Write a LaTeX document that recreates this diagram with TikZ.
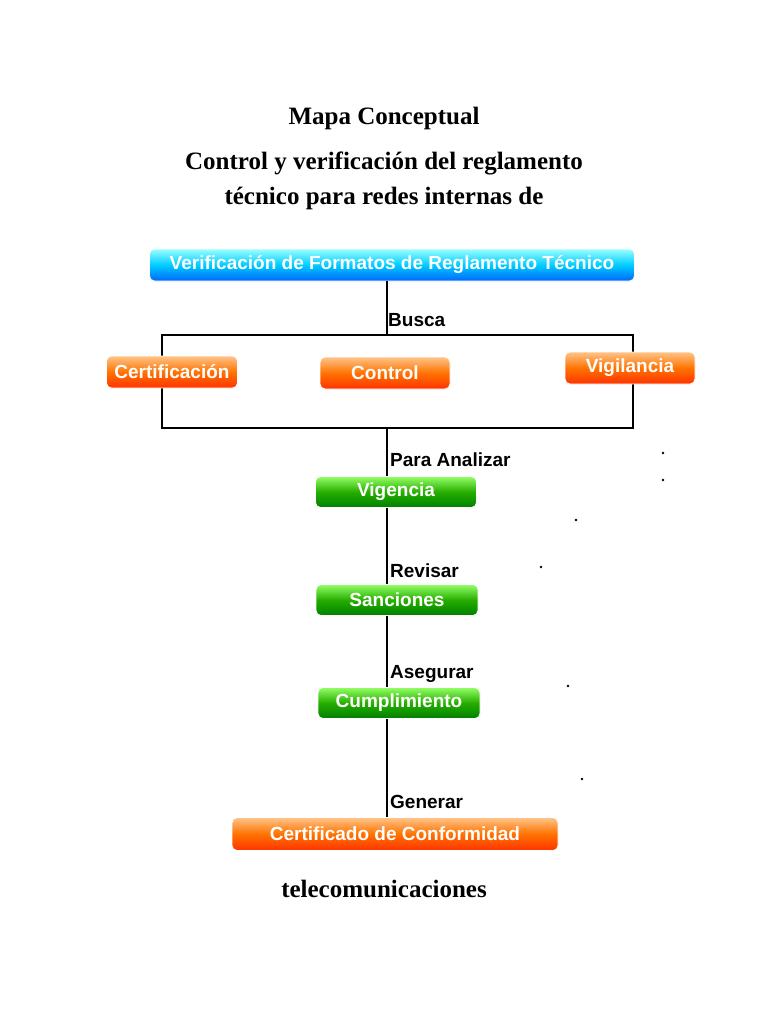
\documentclass[tikz,border=0pt]{standalone}
\usepackage{fontspec}
\setmainfont{Liberation Serif}
\newfontfamily\lblfont{Liberation Sans}
\begin{document}
\begin{tikzpicture}[x=1pt,y=-1pt,
  bx/.style={rounded corners=5pt,draw=white,line width=0.8pt,minimum height=32pt,inner sep=0pt,text=white,font=\lblfont\bfseries\fontsize{19}{20}\selectfont},
  orangebox/.style={bx,top color=orange!40!white!90!orange,bottom color=red!60!orange,middle color=orange!90!red},
  greenbox/.style={bx,top color=green!60!lime!60!white,bottom color=green!50!black,middle color=green!60!black!80!lime},
  bluebox/.style={bx,top color=cyan!40!white,bottom color=blue!60!cyan,middle color=cyan!80!blue},
  ln/.style={line width=2pt,black},
  lbl/.style={font=\lblfont\bfseries\fontsize{19}{20}\selectfont,anchor=west,inner sep=0pt},
  ttl/.style={font=\bfseries\fontsize{25}{28}\selectfont}]
\useasboundingbox (0,0) rectangle (768,1024);
\node[ttl] (t1) at (384,118) {Mapa Conceptual};
\node[ttl] (t2) at (384,163) {Control y verificación del reglamento};
\node[ttl] (t3) at (384,198) {técnico para redes internas de};
\node[ttl] (t4) at (384,889) {telecomunicaciones};
% frame
\coordinate (a) at (387,335);
\coordinate (b) at (387,428);
\draw[ln] (162,335) rectangle (633,428);
\node[bluebox,minimum width=485pt] (top) at (392,265) {Verificación de Formatos de Reglamento Técnico};
\draw[ln] (top.south -| a) -- (a);
\node[lbl] (l1) at (388,320) {Busca};
\node[orangebox,minimum width=131pt] (cert) at (172,372) {Certificación};
\node[orangebox,minimum width=130pt] (ctrl) at (385,373) {Control};
\node[orangebox,minimum width=130pt] (vig) at (630,368) {Vigilancia};
\node[greenbox,minimum width=161pt,minimum height=31pt] (v) at (396,492) {Vigencia};
\draw[ln] (b) -- (b |- v.north);
\node[lbl] (l2) at (390,460) {Para Analizar};
\node[greenbox,minimum width=162pt,minimum height=31pt] (s) at (397,600) {Sanciones};
\draw[ln] (v.south -| b) -- (s.north -| b);
\node[lbl] (l3) at (390,571) {Revisar};
\node[greenbox,minimum width=162pt,minimum height=31pt] (c) at (399,703) {Cumplimiento};
\draw[ln] (s.south -| b) -- (c.north -| b);
\node[lbl] (l4) at (390,674) {Asegurar};
\node[orangebox,minimum width=326pt,minimum height=33pt] (cc) at (395,834) {Certificado de Conformidad};
\draw[ln] (c.south -| b) -- (cc.north -| b);
\node[lbl] (l5) at (390,802) {Generar};
\foreach \p in {(663,453),(663,480),(576,520),(541,567),(568,686),(582,779)} \fill \p circle (1.3pt);
\end{tikzpicture}
\end{document}
